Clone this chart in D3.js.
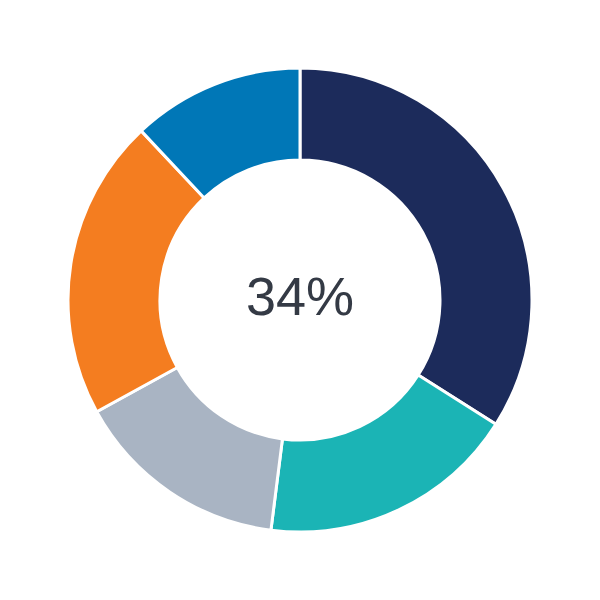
<!DOCTYPE html>
<html>
<head>
<meta charset="utf-8">
<script src="https://cdn.jsdelivr.net/npm/d3@7"></script>
<style>
  body { margin: 0; background: #fff; }
</style>
</head>
<body>
<div id="chart"></div>
<script>
var labels = ["A", "B", "C", "D", "E"]
var values = [34, 18, 15, 21, 12]
var colors = ["#1c2b5b", "#1bb4b5", "#a9b4c3", "#f47d20", "#0077b7"]
var centerLabel = "34%"

var width = 600, height = 600
var outerR = 232, innerR = 140

var color = d3.scaleOrdinal().domain(labels).range(colors)

var svg = d3.select("#chart")
  .append("svg")
    .attr("width", width)
    .attr("height", height)
  .append("g")
    .attr("transform", "translate(" + width / 2 + "," + height / 2 + ")")

var data = labels.map(function(d, i) { return {label: d, value: values[i]} })

var pie = d3.pie().sort(null).value(function(d) { return d.value })
var arc = d3.arc().innerRadius(innerR).outerRadius(outerR)

svg.selectAll(".slice").data(pie(data)).enter()
  .append("path")
    .attr("class", "slice")
    .attr("d", arc)
    .attr("fill", function(d) { return color(d.data.label) })
    .attr("stroke", "#fff")
    .attr("stroke-width", 3)

// center label
svg.append("text")
  .attr("x", 0)
  .attr("y", 15)
  .attr("text-anchor", "middle")
  .attr("font-family", "'Liberation Sans', Arial, sans-serif")
  .attr("font-size", "54px")
  .attr("fill", "#343a45")
  .text(centerLabel)
</script>
</body>
</html>
